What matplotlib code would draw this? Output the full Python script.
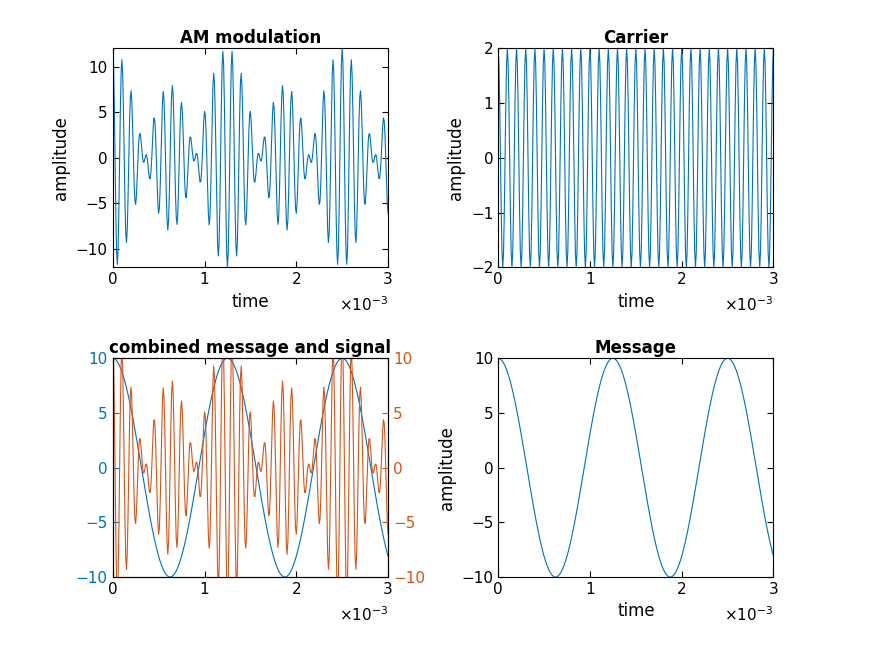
import numpy as np
import matplotlib
matplotlib.use("Agg")
import matplotlib.pyplot as plt

# signal parameters
fs = 120e3
t_end = 3e-3
fm = 800.0        # message frequency
am = 10.0         # message amplitude
fc = 10e3         # carrier frequency
ac = 2.0          # carrier amplitude
x_ticks = [0, 1, 2, 3]

t = np.arange(0, t_end + 1 / fs / 2, 1 / fs)
message = am * np.cos(2 * np.pi * fm * t)
carrier = ac * np.cos(2 * np.pi * fc * t)
am_sig = (message + ac) * np.cos(2 * np.pi * fc * t)

blue = "#0072BD"
orange = "#D95319"
plt.rcParams["font.family"] = "DejaVu Sans"
fig = plt.figure(figsize=(8.74, 6.55), dpi=100)

L = [0.129, 0.570]
B = [0.592, 0.119]
W, H = 0.315, 0.334

def style(ax, ylab=None, xlab=True, title=None):
    ax.set_xlim(0, t_end)
    ax.set_xticks([v * 1e-3 for v in x_ticks])
    ax.set_xticklabels([str(v) for v in x_ticks])
    ax.tick_params(direction="in", labelsize=11, length=4, top=True, right=True)
    if xlab:
        ax.set_xlabel("time", fontsize=12)
    if ylab:
        ax.set_ylabel(ylab, fontsize=12)
    if title:
        ax.set_title(title, fontsize=12, fontweight="bold", pad=4)
    ax.text(1.0, -0.13, r"$\times10^{-3}$", transform=ax.transAxes, ha="right", va="top", fontsize=11)

ax1 = fig.add_axes([L[0], B[0], W, H])
ax1.plot(t, am_sig, color=blue, lw=0.8)
ax1.set_ylim(-12, 12)
ax1.set_yticks([-10, -5, 0, 5, 10])
style(ax1, "amplitude", True, "AM modulation")

ax2 = fig.add_axes([L[1], B[0], W, H])
ax2.plot(t, carrier, color=blue, lw=0.8)
ax2.set_ylim(-2, 2)
ax2.set_yticks([-2, -1, 0, 1, 2])
style(ax2, "amplitude", True, "Carrier")

ax3 = fig.add_axes([L[0], B[1], W, H])
ax3.plot(t, message, color=blue, lw=0.8)
ax3.set_ylim(-10, 10)
ax3.set_yticks([-10, -5, 0, 5, 10])
style(ax3, None, False, "combined message and signal")
ax3.tick_params(axis="y", colors=blue, right=False)
ax3.tick_params(axis="x", colors="black")
ax3r = ax3.twinx()
ax3r.plot(t, am_sig, color=orange, lw=0.8)
ax3r.set_ylim(-10, 10)
ax3r.set_yticks([-10, -5, 0, 5, 10])
ax3r.tick_params(axis="y", direction="in", colors=orange, labelsize=11, length=4)

ax4 = fig.add_axes([L[1], B[1], W, H])
ax4.plot(t, message, color=blue, lw=0.8)
ax4.set_ylim(-10, 10)
ax4.set_yticks([-10, -5, 0, 5, 10])
style(ax4, "amplitude", True, "Message")

fig.savefig("out.png", dpi=100)
